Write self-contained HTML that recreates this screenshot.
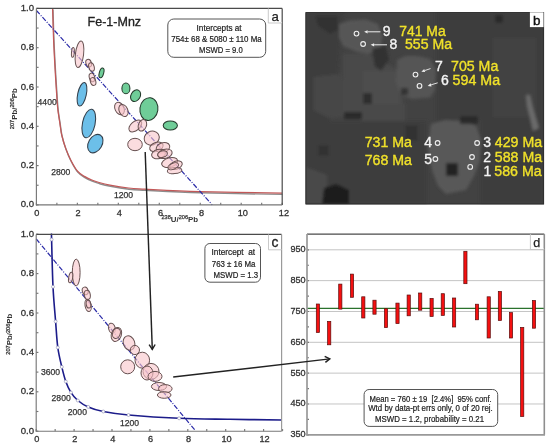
<!DOCTYPE html>
<html><head><meta charset="utf-8"><style>
html,body{margin:0;padding:0;background:#fff;}
svg{display:block;}
text{font-family:"Liberation Sans",Arial,sans-serif;}
.ax{stroke:#777;stroke-width:1.15;}
.tk{font-size:9.6px;fill:#333;stroke:#333;stroke-width:0.3px;}
.tk2{font-size:9.2px;fill:#333;stroke:#333;stroke-width:0.3px;}
.lb{font-size:8.6px;fill:#333;stroke:#333;stroke-width:0.25px;}
.bx{font-size:8.2px;fill:#222;stroke:#222;stroke-width:0.2px;}
.yt{font-size:7.9px;font-weight:bold;fill:#333;}
.sup{font-size:5.6px;font-weight:normal;stroke:#333;stroke-width:0.25px;}
.dd{stroke:#2b2ba8;stroke-width:1.2;stroke-dasharray:5 1.5 1 1.5;fill:none;}
.ep{fill:#f8c4c9;fill-opacity:0.6;stroke:#665050;stroke-width:1;}
.eg{fill:#6fcd98;stroke:#243a2c;stroke-width:1.05;}
.eb{fill:#6cbfe9;stroke:#34404c;stroke-width:1.05;}
</style></head><body>
<svg width="550" height="448" viewBox="0 0 550 448">
<defs><clipPath id="cb"><rect x="305.6" y="12.3" width="238.4" height="192"/></clipPath><filter id="bl" x="-5%" y="-5%" width="110%" height="110%"><feGaussianBlur stdDeviation="1.4"/></filter></defs>
<rect width="550" height="448" fill="#fff"/>
<line class="ax" x1="36.4" y1="204.90" x2="38.6" y2="204.90"/>
<line class="ax" x1="36.4" y1="185.25" x2="38.6" y2="185.25"/>
<line class="ax" x1="36.4" y1="165.60" x2="38.6" y2="165.60"/>
<line class="ax" x1="36.4" y1="145.95" x2="38.6" y2="145.95"/>
<line class="ax" x1="36.4" y1="126.30" x2="38.6" y2="126.30"/>
<line class="ax" x1="36.4" y1="106.65" x2="38.6" y2="106.65"/>
<line class="ax" x1="36.4" y1="87.00" x2="38.6" y2="87.00"/>
<line class="ax" x1="36.4" y1="67.35" x2="38.6" y2="67.35"/>
<line class="ax" x1="36.4" y1="47.70" x2="38.6" y2="47.70"/>
<line class="ax" x1="36.4" y1="28.05" x2="38.6" y2="28.05"/>
<line class="ax" x1="36.4" y1="8.40" x2="38.6" y2="8.40"/>
<line class="ax" x1="36.40" y1="204.9" x2="36.40" y2="202.7"/>
<line class="ax" x1="56.88" y1="204.9" x2="56.88" y2="202.7"/>
<line class="ax" x1="77.36" y1="204.9" x2="77.36" y2="202.7"/>
<line class="ax" x1="97.84" y1="204.9" x2="97.84" y2="202.7"/>
<line class="ax" x1="118.32" y1="204.9" x2="118.32" y2="202.7"/>
<line class="ax" x1="138.80" y1="204.9" x2="138.80" y2="202.7"/>
<line class="ax" x1="159.28" y1="204.9" x2="159.28" y2="202.7"/>
<line class="ax" x1="179.76" y1="204.9" x2="179.76" y2="202.7"/>
<line class="ax" x1="200.24" y1="204.9" x2="200.24" y2="202.7"/>
<line class="ax" x1="220.72" y1="204.9" x2="220.72" y2="202.7"/>
<line class="ax" x1="241.20" y1="204.9" x2="241.20" y2="202.7"/>
<line class="ax" x1="261.68" y1="204.9" x2="261.68" y2="202.7"/>
<line class="ax" x1="282.16" y1="204.9" x2="282.16" y2="202.7"/>
<text class="tk" x="34" y="207.40" text-anchor="end">0.0</text>
<text class="tk" x="34" y="168.10" text-anchor="end">0.2</text>
<text class="tk" x="34" y="128.80" text-anchor="end">0.4</text>
<text class="tk" x="34" y="89.50" text-anchor="end">0.6</text>
<text class="tk" x="34" y="50.20" text-anchor="end">0.8</text>
<text class="tk" x="34" y="10.90" text-anchor="end">1.0</text>
<text class="tk2" x="36.90" y="215.8" text-anchor="middle">0</text>
<text class="tk2" x="78.08" y="215.8" text-anchor="middle">2</text>
<text class="tk2" x="119.26" y="215.8" text-anchor="middle">4</text>
<text class="tk2" x="160.44" y="215.8" text-anchor="middle">6</text>
<text class="tk2" x="201.62" y="215.8" text-anchor="middle">8</text>
<text class="tk2" x="242.80" y="215.8" text-anchor="middle">10</text>
<text class="tk2" x="283.98" y="215.8" text-anchor="middle">12</text>
<path d="M53.00,9.60 C53.17,14.87 53.57,30.72 54.00,41.20 C54.43,51.68 55.05,62.83 55.60,72.50 C56.15,82.17 56.85,92.75 57.30,99.20 C57.75,105.65 57.80,106.97 58.30,111.20 C58.80,115.43 59.67,120.43 60.30,124.60 C60.93,128.77 61.13,132.03 62.10,136.20 C63.07,140.37 64.60,145.43 66.10,149.60 C67.60,153.77 69.17,157.45 71.10,161.20 C73.03,164.95 75.40,169.37 77.70,172.10 C80.00,174.83 82.48,176.08 84.90,177.60 C87.32,179.12 89.77,180.18 92.20,181.20 C94.63,182.22 96.47,182.85 99.50,183.70 C102.53,184.55 105.48,185.38 110.40,186.30 C115.32,187.22 123.17,188.53 129.00,189.20 C134.83,189.87 133.50,189.70 145.40,190.30 C157.30,190.90 177.57,192.12 200.40,192.80 C223.23,193.48 268.73,194.13 282.40,194.40" fill="none" stroke="#8c8c8c" stroke-width="1.4"/>
<path d="M52.60,8.40 C52.77,13.67 53.17,29.52 53.60,40.00 C54.03,50.48 54.65,61.63 55.20,71.30 C55.75,80.97 56.45,91.55 56.90,98.00 C57.35,104.45 57.40,105.77 57.90,110.00 C58.40,114.23 59.27,119.23 59.90,123.40 C60.53,127.57 60.73,130.83 61.70,135.00 C62.67,139.17 64.20,144.23 65.70,148.40 C67.20,152.57 68.77,156.25 70.70,160.00 C72.63,163.75 75.00,168.17 77.30,170.90 C79.60,173.63 82.08,174.88 84.50,176.40 C86.92,177.92 89.37,178.98 91.80,180.00 C94.23,181.02 96.07,181.65 99.10,182.50 C102.13,183.35 105.08,184.18 110.00,185.10 C114.92,186.02 122.77,187.33 128.60,188.00 C134.43,188.67 133.10,188.50 145.00,189.10 C156.90,189.70 177.17,190.92 200.00,191.60 C222.83,192.28 268.33,192.93 282.00,193.20" fill="none" stroke="#c25858" stroke-width="1.25"/>
<text class="lb" x="37.6" y="104.8">4400</text>
<text class="lb" x="51.2" y="174.8">2800</text>
<text class="lb" x="114" y="197.5">1200</text>
<line class="dd" x1="36.4" y1="10.5" x2="212.2" y2="204.8"/>
<ellipse class="eb" cx="82" cy="94.3" rx="4.3" ry="12" transform="rotate(12 82 94.3)"/>
<ellipse class="eb" cx="88.8" cy="123.5" rx="6.3" ry="14.5" transform="rotate(12 88.8 123.5)"/>
<ellipse class="eb" cx="95.3" cy="143.6" rx="6.8" ry="9.9" transform="rotate(30 95.3 143.6)"/>
<ellipse class="eg" cx="101.5" cy="72.9" rx="2.2" ry="5" transform="rotate(15 101.5 72.9)"/>
<ellipse class="eg" cx="125.9" cy="88.4" rx="4.0" ry="5.4"/>
<ellipse class="eg" cx="135.6" cy="95.7" rx="4.6" ry="6.2" transform="rotate(30 135.6 95.7)"/>
<ellipse class="eg" cx="148.9" cy="109.1" rx="9" ry="11.4" transform="rotate(8 148.9 109.1)"/>
<ellipse class="eg" cx="170.3" cy="125.5" rx="7.1" ry="4.5"/>
<ellipse class="ep" cx="79.5" cy="54.2" rx="4.1" ry="13.4" transform="rotate(7 79.5 54.2)"/>
<ellipse class="ep" cx="72.9" cy="52.4" rx="1.4" ry="4.9" transform="rotate(5 72.9 52.4)"/>
<ellipse class="ep" cx="88.7" cy="63.2" rx="2.7" ry="3.9" transform="rotate(-20 88.7 63.2)"/>
<ellipse class="ep" cx="91.5" cy="67" rx="2.7" ry="4.4" transform="rotate(-15 91.5 67)"/>
<ellipse class="ep" cx="92" cy="77.4" rx="2.7" ry="4.4" transform="rotate(-15 92 77.4)"/>
<ellipse class="ep" cx="93.1" cy="81.5" rx="2.7" ry="4" transform="rotate(-15 93.1 81.5)"/>
<ellipse class="ep" cx="119.5" cy="108.5" rx="4.5" ry="6.5" transform="rotate(-25 119.5 108.5)"/>
<ellipse class="ep" cx="123.5" cy="110.5" rx="4.3" ry="6.3" transform="rotate(-25 123.5 110.5)"/>
<ellipse class="ep" cx="135.3" cy="126" rx="7.5" ry="4.5" transform="rotate(-40 135.3 126)"/>
<ellipse class="ep" cx="142.4" cy="125.3" rx="4" ry="6" transform="rotate(20 142.4 125.3)"/>
<ellipse class="ep" cx="135" cy="144.5" rx="7.3" ry="6.2"/>
<ellipse class="ep" cx="151.7" cy="138.1" rx="7.8" ry="6.8" transform="rotate(-30 151.7 138.1)"/>
<ellipse class="ep" cx="156.4" cy="146.9" rx="7" ry="4.5" transform="rotate(-20 156.4 146.9)"/>
<ellipse class="ep" cx="163" cy="147.7" rx="7" ry="5" transform="rotate(-20 163 147.7)"/>
<ellipse class="ep" cx="158.5" cy="154" rx="7" ry="4.6" transform="rotate(-15 158.5 154)"/>
<ellipse class="ep" cx="165" cy="153.8" rx="7.3" ry="4.5" transform="rotate(-15 165 153.8)"/>
<ellipse class="ep" cx="169.7" cy="162.5" rx="8.2" ry="4.6" transform="rotate(-15 169.7 162.5)"/>
<ellipse class="ep" cx="176" cy="165.2" rx="6.5" ry="4" transform="rotate(-20 176 165.2)"/>
<ellipse class="ep" cx="174.6" cy="170.6" rx="7.3" ry="3" transform="rotate(-5 174.6 170.6)"/>
<ellipse class="ep" cx="173.2" cy="166.2" rx="5.6" ry="3.0" transform="rotate(-22 173.2 166.2)"/>
<ellipse class="ep" cx="162.5" cy="154.2" rx="5" ry="3.2" transform="rotate(-15 162.5 154.2)"/>
<line x1="36.4" y1="8.4" x2="282.2" y2="8.4" stroke="#4a4a4a" stroke-width="1.2"/>
<line x1="282.2" y1="8.4" x2="282.2" y2="205" stroke="#4a4a4a" stroke-width="1.2"/>
<line class="ax" x1="36.4" y1="8.4" x2="36.4" y2="205.4"/>
<line class="ax" x1="36" y1="204.9" x2="282.2" y2="204.9"/>
<text x="87.6" y="26.1" font-size="12.2" fill="#222" stroke="#222" stroke-width="0.3" textLength="53.5" lengthAdjust="spacingAndGlyphs">Fe-1-Mnz</text>
<rect x="167.8" y="19" width="97.9" height="38.3" rx="6" fill="#fff" stroke="#555" stroke-width="1"/>
<text class="bx" x="196.6" y="31.3" textLength="45" lengthAdjust="spacingAndGlyphs">Intercepts at</text>
<text class="bx" x="171.3" y="41.9" textLength="90.4" lengthAdjust="spacingAndGlyphs">754± 68 &amp; 5080 ± 110 Ma</text>
<text class="bx" x="199" y="53" textLength="43.7" lengthAdjust="spacingAndGlyphs">MSWD = 9.0</text>
<path d="M268.3,8.4 V23 H282.2" fill="#fff" stroke="#bbb" stroke-width="0.8"/>
<text x="271.6" y="20.8" font-size="13.2" fill="#222" stroke="#222" stroke-width="0.25">a</text>
<text class="yt" transform="translate(16.5,129.2) rotate(-90)"><tspan class="sup" dy="-2.8">207</tspan><tspan dy="2.8">Pb/</tspan><tspan class="sup" dy="-2.8">206</tspan><tspan dy="2.8">Pb</tspan></text>
<text class="yt" x="161.5" y="221.9"><tspan class="sup" dy="-2.8">238</tspan><tspan dy="2.8">U/</tspan><tspan class="sup" dy="-2.8">206</tspan><tspan dy="2.8">Pb</tspan></text>
<g>
<rect x="305.6" y="12.3" width="238.4" height="192" fill="#424242"/>
<g clip-path="url(#cb)"><g filter="url(#bl)">
<polygon points="305.6,12.3 345,12.3 340,40 338,80 330,121 305.6,121" fill="#3d3d3d"/>
<polygon points="315,16 338,16 338,30 330,34 318,26" fill="#333333"/>
<polygon points="343,54 368,54 390,66 403,72 403,115 343,115" fill="#494949"/>
<polygon points="363,71 399,71 399,104 363,104" fill="#4d4d4d"/>
<polygon points="339,24 350,20.6 365.7,19.5 378,24 382.4,36.2 380.2,48.5 368,54 356.8,51.8 343.4,46.2 339,37.3" fill="#565656"/>
<polygon points="372.4,48.5 385.8,46.2 389,59.6 381.3,70.8 374.6,66.3" fill="#323232"/>
<polygon points="397,60 405,56 418,56 430,59 436,70 435,90 430,97.5 412,99 401,95 396,82" fill="#555555"/>
<polygon points="363,93 372,93 372,104 363,104" fill="#2e2e2e"/>
<polygon points="401,88 408,88 408,95 401,95" fill="#333333"/>
<polygon points="314,77 340,74 343,80 343,117 330,118 314,110" fill="#474747"/>
<polygon points="436,12.3 544,12.3 544,121 436,121" fill="#3c3c3c"/>
<polygon points="493,38 536,38 536,117 493,117" fill="#424242"/>
<polygon points="495,15 503,15 503,23 495,23" fill="#2a2a2a"/>
<polygon points="305.6,121 427,121 427,204.3 305.6,204.3" fill="#3c3c3c"/>
<polygon points="362,104 405,104 405,121 362,121" fill="#484848"/>
<polygon points="344,112 362,112 362,119 344,119" fill="#2c2c2c"/>
<polygon points="318,145 329,145 329,156 318,156" fill="#303030"/>
<polygon points="405,125 418,125 418,141 405,141" fill="#303030"/>
<polygon points="305.6,167 327,175 327,204.3 305.6,204.3" fill="#4a4a4a"/>
<polygon points="324,188 336,184 349,190 349,204.3 322,204.3" fill="#1a1a1a"/>
<polygon points="480,121 544,121 544,204.3 480,204.3" fill="#3c3c3c"/>
<polygon points="431,124 445,120 462,121 476,126 481,140 480,160 474,176 466,190 446,194 438,186 432,170 428,148" fill="#585858"/>
<polygon points="446,163 458,163 458,176 446,176" fill="#202020"/>
<polygon points="460,116 478,116 478,124 460,124" fill="#2c2c2c"/>
<polygon points="526,95 530,95 533,108 536,118 539,128 533,131 530,118 527,106" fill="#6a6a6a"/>
</g></g>
<rect x="305.9" y="12.6" width="237.8" height="191.4" fill="none" stroke="#2a2a2a" stroke-width="0.8"/>
<circle cx="356.5" cy="33.6" r="2.35" fill="none" stroke="#eee" stroke-width="1.1"/>
<circle cx="363.1" cy="44" r="2.35" fill="none" stroke="#eee" stroke-width="1.1"/>
<circle cx="415.5" cy="74.6" r="2.35" fill="none" stroke="#eee" stroke-width="1.1"/>
<circle cx="419.5" cy="85.9" r="2.35" fill="none" stroke="#eee" stroke-width="1.1"/>
<circle cx="437.6" cy="143" r="2.35" fill="none" stroke="#eee" stroke-width="1.1"/>
<circle cx="435.4" cy="159" r="2.35" fill="none" stroke="#eee" stroke-width="1.1"/>
<circle cx="477.1" cy="143" r="2.35" fill="none" stroke="#eee" stroke-width="1.1"/>
<circle cx="472" cy="157" r="2.35" fill="none" stroke="#eee" stroke-width="1.1"/>
<circle cx="470.2" cy="166.9" r="2.35" fill="none" stroke="#eee" stroke-width="1.1"/>
<line x1="380.4" y1="31.8" x2="367.60" y2="31.80" stroke="#eee" stroke-width="1.0"/><polygon points="364.1,31.8 367.60,30.20 367.60,33.40" fill="#eee"/>
<line x1="387" y1="44.8" x2="374.10" y2="44.80" stroke="#eee" stroke-width="1.0"/><polygon points="370.6,44.8 374.10,43.20 374.10,46.40" fill="#eee"/>
<line x1="430.5" y1="68.6" x2="424.71" y2="70.57" stroke="#eee" stroke-width="0.9"/><polygon points="421.4,71.7 424.20,69.06 425.23,72.09" fill="#eee"/>
<line x1="437.7" y1="82.8" x2="431.04" y2="84.86" stroke="#eee" stroke-width="0.9"/><polygon points="427.7,85.9 430.57,83.34 431.52,86.39" fill="#eee"/>
<text x="382.8" y="36.1" font-size="14" fill="#f4f4f4" stroke="#f4f4f4" stroke-width="0.35">9</text>
<text x="399.2" y="35.8" font-size="14" fill="#f0e12a" stroke="#f0e12a" stroke-width="0.35" textLength="46.5" lengthAdjust="spacingAndGlyphs">741 Ma</text>
<text x="389.6" y="49.1" font-size="14" fill="#f4f4f4" stroke="#f4f4f4" stroke-width="0.35">8</text>
<text x="405" y="49.0" font-size="14" fill="#f0e12a" stroke="#f0e12a" stroke-width="0.35" textLength="47" lengthAdjust="spacingAndGlyphs">555 Ma</text>
<text x="435" y="70.7" font-size="14" fill="#f4f4f4" stroke="#f4f4f4" stroke-width="0.35">7</text>
<text x="451" y="70.8" font-size="14" fill="#f0e12a" stroke="#f0e12a" stroke-width="0.35" textLength="47.3" lengthAdjust="spacingAndGlyphs">705 Ma</text>
<text x="441" y="85.2" font-size="14" fill="#f4f4f4" stroke="#f4f4f4" stroke-width="0.35">6</text>
<text x="452.6" y="85" font-size="14" fill="#f0e12a" stroke="#f0e12a" stroke-width="0.35" textLength="47.5" lengthAdjust="spacingAndGlyphs">594 Ma</text>
<text x="364.7" y="147.1" font-size="14" fill="#f0e12a" stroke="#f0e12a" stroke-width="0.35" textLength="47.3" lengthAdjust="spacingAndGlyphs">731 Ma</text>
<text x="364.7" y="164.6" font-size="14" fill="#f0e12a" stroke="#f0e12a" stroke-width="0.35" textLength="47.3" lengthAdjust="spacingAndGlyphs">768 Ma</text>
<text x="424.3" y="146.7" font-size="14" fill="#f4f4f4" stroke="#f4f4f4" stroke-width="0.35">4</text>
<text x="424.3" y="164.4" font-size="14" fill="#f4f4f4" stroke="#f4f4f4" stroke-width="0.35">5</text>
<text x="483.2" y="146.7" font-size="14" fill="#f4f4f4" stroke="#f4f4f4" stroke-width="0.35">3</text>
<text x="494.8" y="146.7" font-size="14" fill="#f0e12a" stroke="#f0e12a" stroke-width="0.35" textLength="47.3" lengthAdjust="spacingAndGlyphs">429 Ma</text>
<text x="483.2" y="161.5" font-size="14" fill="#f4f4f4" stroke="#f4f4f4" stroke-width="0.35">2</text>
<text x="494.8" y="161.5" font-size="14" fill="#f0e12a" stroke="#f0e12a" stroke-width="0.35" textLength="47.3" lengthAdjust="spacingAndGlyphs">588 Ma</text>
<text x="483.5" y="175.9" font-size="14" fill="#f4f4f4" stroke="#f4f4f4" stroke-width="0.35">1</text>
<text x="494.3" y="175.9" font-size="14" fill="#f0e12a" stroke="#f0e12a" stroke-width="0.35" textLength="47.3" lengthAdjust="spacingAndGlyphs">586 Ma</text>
<rect x="529.9" y="12.3" width="13.6" height="14.8" fill="#fff"/>
<text x="533.1" y="24.8" font-size="13.4" fill="#111" stroke="#111" stroke-width="0.4">b</text>
</g>
<line class="ax" x1="36.2" y1="431.20" x2="38.4" y2="431.20"/>
<line class="ax" x1="36.2" y1="411.50" x2="38.4" y2="411.50"/>
<line class="ax" x1="36.2" y1="391.80" x2="38.4" y2="391.80"/>
<line class="ax" x1="36.2" y1="372.10" x2="38.4" y2="372.10"/>
<line class="ax" x1="36.2" y1="352.40" x2="38.4" y2="352.40"/>
<line class="ax" x1="36.2" y1="332.70" x2="38.4" y2="332.70"/>
<line class="ax" x1="36.2" y1="313.00" x2="38.4" y2="313.00"/>
<line class="ax" x1="36.2" y1="293.30" x2="38.4" y2="293.30"/>
<line class="ax" x1="36.2" y1="273.60" x2="38.4" y2="273.60"/>
<line class="ax" x1="36.2" y1="253.90" x2="38.4" y2="253.90"/>
<line class="ax" x1="36.2" y1="234.20" x2="38.4" y2="234.20"/>
<line class="ax" x1="36.20" y1="431.2" x2="36.20" y2="429"/>
<line class="ax" x1="55.15" y1="431.2" x2="55.15" y2="429"/>
<line class="ax" x1="74.10" y1="431.2" x2="74.10" y2="429"/>
<line class="ax" x1="93.05" y1="431.2" x2="93.05" y2="429"/>
<line class="ax" x1="112.00" y1="431.2" x2="112.00" y2="429"/>
<line class="ax" x1="130.95" y1="431.2" x2="130.95" y2="429"/>
<line class="ax" x1="149.90" y1="431.2" x2="149.90" y2="429"/>
<line class="ax" x1="168.85" y1="431.2" x2="168.85" y2="429"/>
<line class="ax" x1="187.80" y1="431.2" x2="187.80" y2="429"/>
<line class="ax" x1="206.75" y1="431.2" x2="206.75" y2="429"/>
<line class="ax" x1="225.70" y1="431.2" x2="225.70" y2="429"/>
<line class="ax" x1="244.65" y1="431.2" x2="244.65" y2="429"/>
<line class="ax" x1="263.60" y1="431.2" x2="263.60" y2="429"/>
<line class="ax" x1="282.55" y1="431.2" x2="282.55" y2="429"/>
<text class="tk" x="34" y="433.70" text-anchor="end">0.0</text>
<text class="tk" x="34" y="394.30" text-anchor="end">0.2</text>
<text class="tk" x="34" y="354.90" text-anchor="end">0.4</text>
<text class="tk" x="34" y="315.50" text-anchor="end">0.6</text>
<text class="tk" x="34" y="276.10" text-anchor="end">0.8</text>
<text class="tk" x="34" y="236.70" text-anchor="end">1.0</text>
<text class="tk2" x="36.80" y="441.9" text-anchor="middle">0</text>
<text class="tk2" x="74.76" y="441.9" text-anchor="middle">2</text>
<text class="tk2" x="112.72" y="441.9" text-anchor="middle">4</text>
<text class="tk2" x="150.68" y="441.9" text-anchor="middle">6</text>
<text class="tk2" x="188.64" y="441.9" text-anchor="middle">8</text>
<text class="tk2" x="226.60" y="441.9" text-anchor="middle">10</text>
<text class="tk2" x="264.56" y="441.9" text-anchor="middle">12</text>
<line class="dd" x1="36.2" y1="238.9" x2="195.5" y2="430.8"/>
<path d="M51.50,234.40 C51.52,235.25 51.35,230.77 51.60,239.50 C51.85,248.23 52.33,273.15 53.00,286.80 C53.67,300.45 54.80,311.28 55.60,321.40 C56.40,331.52 56.77,339.92 57.80,347.50 C58.83,355.08 60.47,361.23 61.80,366.90 C63.13,372.57 64.28,377.25 65.80,381.50 C67.32,385.75 68.90,389.23 70.90,392.40 C72.90,395.57 74.92,398.08 77.80,400.50 C80.68,402.92 83.95,405.07 88.20,406.90 C92.45,408.73 96.58,410.15 103.30,411.50 C110.02,412.85 115.87,413.87 128.50,415.00 C141.13,416.13 162.18,417.58 179.10,418.30 C196.02,419.02 212.93,419.02 230.00,419.30 C247.07,419.58 272.92,419.88 281.50,420.00" fill="none" stroke="#1c1c8a" stroke-width="1.6"/>
<circle cx="51.6" cy="239.5" r="1.5" fill="#fff" stroke="#8a8ab0" stroke-width="0.6"/>
<circle cx="53" cy="286.8" r="1.5" fill="#fff" stroke="#8a8ab0" stroke-width="0.6"/>
<circle cx="55.6" cy="321.4" r="1.5" fill="#fff" stroke="#8a8ab0" stroke-width="0.6"/>
<circle cx="57.8" cy="347.5" r="1.5" fill="#fff" stroke="#8a8ab0" stroke-width="0.6"/>
<circle cx="61.8" cy="366.9" r="1.5" fill="#fff" stroke="#8a8ab0" stroke-width="0.6"/>
<circle cx="65.8" cy="381.5" r="1.5" fill="#fff" stroke="#8a8ab0" stroke-width="0.6"/>
<circle cx="70.9" cy="392.4" r="1.5" fill="#fff" stroke="#8a8ab0" stroke-width="0.6"/>
<circle cx="77.8" cy="400.5" r="1.5" fill="#fff" stroke="#8a8ab0" stroke-width="0.6"/>
<circle cx="88.2" cy="406.9" r="1.5" fill="#fff" stroke="#8a8ab0" stroke-width="0.6"/>
<circle cx="103.3" cy="411.5" r="1.5" fill="#fff" stroke="#8a8ab0" stroke-width="0.6"/>
<circle cx="128.5" cy="415" r="1.5" fill="#fff" stroke="#8a8ab0" stroke-width="0.6"/>
<circle cx="179.1" cy="418.3" r="1.5" fill="#fff" stroke="#8a8ab0" stroke-width="0.6"/>
<text class="lb" x="40.9" y="374.9">3600</text>
<text class="lb" x="51.6" y="400.5">2800</text>
<text class="lb" x="67.8" y="414.9">2000</text>
<text class="lb" x="120" y="425.5">1200</text>
<ellipse class="ep" cx="76.2" cy="272.5" rx="3.9" ry="13.4"/>
<ellipse class="ep" cx="70.7" cy="277.5" rx="2" ry="5.4" transform="rotate(10 70.7 277.5)"/>
<ellipse class="ep" cx="85.2" cy="290.9" rx="2.9" ry="3.9" transform="rotate(-15 85.2 290.9)"/>
<ellipse class="ep" cx="87.3" cy="294.9" rx="3" ry="4.6" transform="rotate(-10 87.3 294.9)"/>
<ellipse class="ep" cx="88.1" cy="305.4" rx="3.1" ry="6.2" transform="rotate(-10 88.1 305.4)"/>
<ellipse class="ep" cx="88.5" cy="304.2" rx="2.3" ry="3.9" transform="rotate(-10 88.5 304.2)"/>
<ellipse class="ep" cx="111.9" cy="328.3" rx="3.3" ry="5.2" transform="rotate(-15 111.9 328.3)"/>
<ellipse class="ep" cx="116.4" cy="334.4" rx="5" ry="7.2" transform="rotate(20 116.4 334.4)"/>
<ellipse class="ep" cx="116.4" cy="333.4" rx="3.8" ry="5.2" transform="rotate(20 116.4 333.4)"/>
<ellipse class="ep" cx="129" cy="343" rx="5.7" ry="7.3" transform="rotate(-20 129 343)"/>
<ellipse class="ep" cx="134.9" cy="350" rx="4.6" ry="4.6"/>
<ellipse class="ep" cx="127.7" cy="366.8" rx="7" ry="7"/>
<ellipse class="ep" cx="142.3" cy="360.2" rx="7.3" ry="8"/>
<ellipse class="ep" cx="151" cy="371.4" rx="8" ry="8"/>
<ellipse class="ep" cx="147" cy="373" rx="6" ry="7"/>
<ellipse class="ep" cx="155" cy="376.4" rx="7" ry="5"/>
<ellipse class="ep" cx="159" cy="386.5" rx="7.6" ry="4"/>
<ellipse class="ep" cx="165.3" cy="388.7" rx="6.8" ry="4.1"/>
<ellipse class="ep" cx="164.2" cy="395" rx="6.8" ry="3.3"/>
<line x1="36.2" y1="234.4" x2="281.6" y2="234.4" stroke="#4a4a4a" stroke-width="1.2"/>
<line x1="281.6" y1="234.4" x2="281.6" y2="431.2" stroke="#9a9a9a" stroke-width="1.2"/>
<line class="ax" x1="36.2" y1="234.4" x2="36.2" y2="431.6"/>
<line class="ax" x1="35.8" y1="431.2" x2="281.6" y2="431.2"/>
<rect x="204.9" y="243.5" width="55.6" height="38.7" rx="5" fill="#fff" stroke="#555" stroke-width="1"/>
<text class="bx" x="211.5" y="255.3" textLength="43.6" lengthAdjust="spacingAndGlyphs">Intercept &#160;at</text>
<text class="bx" x="211.8" y="266.5" textLength="43.7" lengthAdjust="spacingAndGlyphs">763 ± 16 Ma</text>
<text class="bx" x="213.6" y="277.5" textLength="44.6" lengthAdjust="spacingAndGlyphs">MSWD = 1.3</text>
<path d="M268.5,234.4 V249.8 H281.6" fill="#fff" stroke="#bbb" stroke-width="0.8"/>
<text x="271.5" y="247.1" font-size="13.8" fill="#222" stroke="#222" stroke-width="0.3">c</text>
<text class="yt" transform="translate(12.4,354.7) rotate(-90)"><tspan class="sup" dy="-2.8">207</tspan><tspan dy="2.8">Pb/</tspan><tspan class="sup" dy="-2.8">206</tspan><tspan dy="2.8">Pb</tspan></text>
<line x1="307" y1="403.97" x2="544.3" y2="403.97" stroke="#c4c4c4" stroke-width="1"/>
<line x1="307" y1="373.13" x2="544.3" y2="373.13" stroke="#c4c4c4" stroke-width="1"/>
<line x1="307" y1="342.30" x2="544.3" y2="342.30" stroke="#c4c4c4" stroke-width="1"/>
<line x1="307" y1="311.47" x2="544.3" y2="311.47" stroke="#c4c4c4" stroke-width="1"/>
<line x1="307" y1="280.63" x2="544.3" y2="280.63" stroke="#c4c4c4" stroke-width="1"/>
<line x1="307" y1="249.80" x2="544.3" y2="249.80" stroke="#c4c4c4" stroke-width="1"/>
<line class="ax" x1="307" y1="434.80" x2="309" y2="434.80"/>
<line class="ax" x1="307" y1="419.38" x2="309" y2="419.38"/>
<line class="ax" x1="307" y1="403.97" x2="309" y2="403.97"/>
<line class="ax" x1="307" y1="388.55" x2="309" y2="388.55"/>
<line class="ax" x1="307" y1="373.13" x2="309" y2="373.13"/>
<line class="ax" x1="307" y1="357.72" x2="309" y2="357.72"/>
<line class="ax" x1="307" y1="342.30" x2="309" y2="342.30"/>
<line class="ax" x1="307" y1="326.88" x2="309" y2="326.88"/>
<line class="ax" x1="307" y1="311.47" x2="309" y2="311.47"/>
<line class="ax" x1="307" y1="296.05" x2="309" y2="296.05"/>
<line class="ax" x1="307" y1="280.63" x2="309" y2="280.63"/>
<line class="ax" x1="307" y1="265.22" x2="309" y2="265.22"/>
<line class="ax" x1="307" y1="249.80" x2="309" y2="249.80"/>
<text class="tk" x="305.6" y="437.20" text-anchor="end" style="font-size:9.1px">350</text>
<text class="tk" x="305.6" y="406.37" text-anchor="end" style="font-size:9.1px">450</text>
<text class="tk" x="305.6" y="375.53" text-anchor="end" style="font-size:9.1px">550</text>
<text class="tk" x="305.6" y="344.70" text-anchor="end" style="font-size:9.1px">650</text>
<text class="tk" x="305.6" y="313.87" text-anchor="end" style="font-size:9.1px">750</text>
<text class="tk" x="305.6" y="283.03" text-anchor="end" style="font-size:9.1px">850</text>
<text class="tk" x="305.6" y="252.20" text-anchor="end" style="font-size:9.1px">950</text>
<line x1="307" y1="308.4" x2="544.3" y2="308.4" stroke="#2a722c" stroke-width="1.2"/>
<rect x="316.30" y="304" width="3.2" height="28.50" fill="#f41010" stroke="#5a0c0c" stroke-width="0.7"/>
<rect x="327.60" y="321.4" width="3.2" height="23.40" fill="#f41010" stroke="#5a0c0c" stroke-width="0.7"/>
<rect x="338.70" y="284.1" width="3.2" height="25.00" fill="#f41010" stroke="#5a0c0c" stroke-width="0.7"/>
<rect x="350.40" y="274.1" width="3.2" height="23.20" fill="#f41010" stroke="#5a0c0c" stroke-width="0.7"/>
<rect x="361.70" y="296.8" width="3.2" height="21.20" fill="#f41010" stroke="#5a0c0c" stroke-width="0.7"/>
<rect x="372.90" y="300.2" width="3.2" height="14.00" fill="#f41010" stroke="#5a0c0c" stroke-width="0.7"/>
<rect x="384.40" y="308.7" width="3.2" height="18.90" fill="#f41010" stroke="#5a0c0c" stroke-width="0.7"/>
<rect x="395.90" y="303.1" width="3.2" height="20.50" fill="#f41010" stroke="#5a0c0c" stroke-width="0.7"/>
<rect x="407.10" y="295" width="3.2" height="20.80" fill="#f41010" stroke="#5a0c0c" stroke-width="0.7"/>
<rect x="418.60" y="293" width="3.2" height="17.20" fill="#f41010" stroke="#5a0c0c" stroke-width="0.7"/>
<rect x="430.00" y="298.4" width="3.2" height="18.10" fill="#f41010" stroke="#5a0c0c" stroke-width="0.7"/>
<rect x="441.20" y="293.7" width="3.2" height="21.70" fill="#f41010" stroke="#5a0c0c" stroke-width="0.7"/>
<rect x="452.50" y="298" width="3.2" height="29.00" fill="#f41010" stroke="#5a0c0c" stroke-width="0.7"/>
<rect x="463.80" y="251.3" width="3.2" height="32.40" fill="#f41010" stroke="#5a0c0c" stroke-width="0.7"/>
<rect x="475.40" y="304.2" width="3.2" height="15.60" fill="#f41010" stroke="#5a0c0c" stroke-width="0.7"/>
<rect x="487.10" y="296.8" width="3.2" height="41.20" fill="#f41010" stroke="#5a0c0c" stroke-width="0.7"/>
<rect x="498.30" y="291.5" width="3.2" height="29.00" fill="#f41010" stroke="#5a0c0c" stroke-width="0.7"/>
<rect x="509.40" y="312.6" width="3.2" height="25.40" fill="#f41010" stroke="#5a0c0c" stroke-width="0.7"/>
<rect x="520.60" y="327.4" width="3.2" height="89.10" fill="#f41010" stroke="#5a0c0c" stroke-width="0.7"/>
<rect x="532.40" y="300.5" width="3.2" height="27.70" fill="#f41010" stroke="#5a0c0c" stroke-width="0.7"/>
<line x1="307" y1="234.1" x2="544.3" y2="234.1" stroke="#4a4a4a" stroke-width="1.2"/>
<line x1="544.3" y1="234.1" x2="544.3" y2="434.8" stroke="#8e8e8e" stroke-width="1.6"/>
<line x1="307" y1="234.1" x2="307" y2="435.6" stroke="#999" stroke-width="1.7"/>
<line x1="306.2" y1="434.8" x2="545" y2="434.8" stroke="#999" stroke-width="1.7"/>
<rect x="364.1" y="389.5" width="133.6" height="36.9" rx="5" fill="#fff" stroke="#555" stroke-width="1"/>
<text class="bx" x="369.5" y="401.8" textLength="122.2" lengthAdjust="spacingAndGlyphs">Mean = 760 ± 19 &#160;[2.4%] &#160;95% conf.</text>
<text class="bx" x="368.2" y="411.4" textLength="124.6" lengthAdjust="spacingAndGlyphs">Wtd by data-pt errs only, 0 of 20 rej.</text>
<text class="bx" x="375" y="422.3" textLength="109" lengthAdjust="spacingAndGlyphs">MSWD = 1.2, probability = 0.21</text>
<path d="M530.4,234.1 V249.5 H544.3" fill="#fff" stroke="#bbb" stroke-width="0.8"/>
<text x="533.2" y="247.3" font-size="12.6" fill="#222" stroke="#222" stroke-width="0.25">d</text>
<line x1="145.2" y1="152" x2="152.3" y2="349.4" stroke="#222" stroke-width="1.45"/><polyline points="149.13,344.71 152.3,349.4 155.13,344.50" fill="none" stroke="#222" stroke-width="1.45"/>
<line x1="173.2" y1="377" x2="329.8" y2="358.9" stroke="#222" stroke-width="1.45"/><polyline points="325.38,362.43 329.8,358.9 324.69,356.47" fill="none" stroke="#222" stroke-width="1.45"/>
</svg>
</body></html>
